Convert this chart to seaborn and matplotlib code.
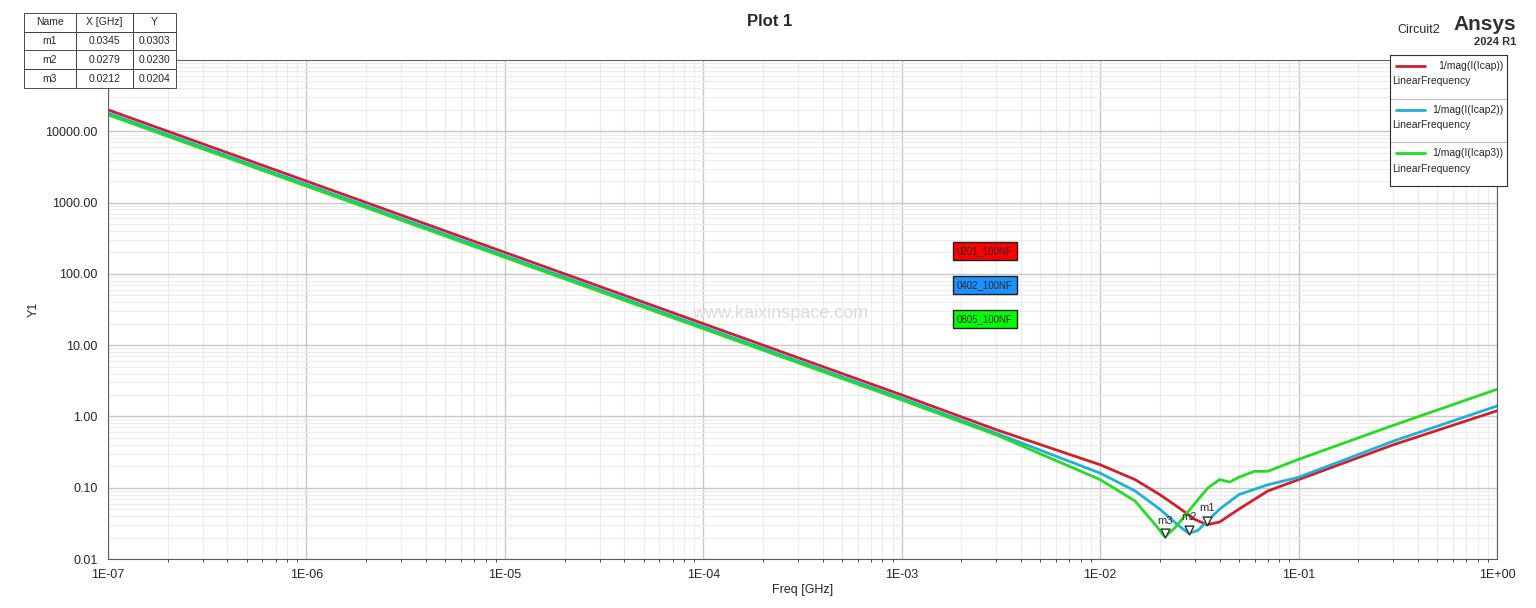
import matplotlib
matplotlib.use('Agg')
import matplotlib.pyplot as plt
import matplotlib.ticker as mticker
import numpy as np
import pandas as pd
import seaborn as sns

# ------------------ Data ------------------ #
red_f = [1e-7, 1e-6, 1e-5, 1e-4, 1e-3, 3e-3, 1e-2, 0.015, 0.02, 0.025, 0.03, 0.0345, 0.04, 0.05, 0.07, 0.1, 0.3, 1.0]
red_y = [20000, 2000, 200, 20, 2.0, 0.65, 0.21, 0.13, 0.08, 0.052, 0.036, 0.0303, 0.033, 0.05, 0.09, 0.13, 0.4, 1.2]
blue_f = [1e-7, 1e-6, 1e-5, 1e-4, 1e-3, 3e-3, 1e-2, 0.015, 0.02, 0.025, 0.0279, 0.031, 0.035, 0.04, 0.05, 0.07, 0.1, 0.3, 1.0]
blue_y = [18000, 1800, 180, 18, 1.8, 0.58, 0.16, 0.09, 0.05, 0.029, 0.0230, 0.025, 0.035, 0.05, 0.08, 0.11, 0.14, 0.45, 1.4]
green_f = [1e-7, 1e-6, 1e-5, 1e-4, 1e-3, 3e-3, 1e-2, 0.015, 0.019, 0.0212, 0.024, 0.03, 0.035, 0.04, 0.045, 0.05, 0.06, 0.07, 0.1, 0.3, 1.0]
green_y = [17000, 1700, 170, 17, 1.7, 0.55, 0.13, 0.065, 0.03, 0.0204, 0.028, 0.06, 0.1, 0.13, 0.12, 0.14, 0.17, 0.17, 0.25, 0.75, 2.4]

markers = ["m1", "m2", "m3"]
marker_x = [0.0345, 0.0279, 0.0212]
marker_y = [0.0303, 0.0230, 0.0204]

legend_names = ["1/mag(I(Icap))", "1/mag(I(Icap2))", "1/mag(I(Icap3))"]
tag_names = ["0201_100NF", "0402_100NF", "0805_100NF"]
colors = ["#d0202a", "#1fb0d8", "#22dd22"]
tag_colors = ["#ff0000", "#1e90ff", "#00ff00"]

df = pd.concat([
    pd.DataFrame({"f": red_f, "y": red_y, "s": legend_names[0]}),
    pd.DataFrame({"f": blue_f, "y": blue_y, "s": legend_names[1]}),
    pd.DataFrame({"f": green_f, "y": green_y, "s": legend_names[2]}),
])

# ------------------ Plot ------------------ #
sns.set_style("white")
plt.rcParams['font.family'] = ['Liberation Sans', 'DejaVu Sans']

fig = plt.figure(figsize=(15.36, 6.08), dpi=100)
ax = fig.add_axes([108 / 1536, 49 / 608, 1389 / 1536, 499 / 608])

sns.lineplot(data=df, x="f", y="y", hue="s", palette=colors, sort=False,
             linewidth=2, legend=False, ax=ax)
ax.set_xscale("log")
ax.set_yscale("log")
ax.set_xlim(1e-7, 1.0)
ax.set_ylim(0.01, 1e5)

ax.xaxis.set_major_locator(mticker.LogLocator(base=10, numticks=10))
ax.xaxis.set_minor_locator(mticker.LogLocator(base=10, subs=np.arange(2, 10), numticks=100))
ax.yaxis.set_major_locator(mticker.FixedLocator([0.01, 0.1, 1, 10, 100, 1000, 10000]))
ax.yaxis.set_minor_locator(mticker.LogLocator(base=10, subs=np.arange(2, 10), numticks=100))
ax.xaxis.set_major_formatter(mticker.FuncFormatter(lambda v, p: "1E" + ("+00" if v >= 1 else f"-{int(round(-np.log10(v))):02d}")))
ax.xaxis.set_minor_formatter(mticker.NullFormatter())
ax.yaxis.set_major_formatter(mticker.FuncFormatter(lambda v, p: f"{v:.2f}"))
ax.yaxis.set_minor_formatter(mticker.NullFormatter())
ax.grid(True, which="major", color="#c8c8c8", linewidth=1)
ax.grid(True, which="minor", color="#ececec", linewidth=0.8)
ax.tick_params(axis="both", which="major", labelsize=9, length=4, direction="out")
ax.tick_params(axis="x", which="minor", length=2, direction="out", bottom=True)
for sp in ax.spines.values():
    sp.set_color("#606060")
ax.set_xlabel("Freq [GHz]", fontsize=9, labelpad=2)
ax.set_ylabel("Y1", fontsize=9)

# markers
for name, mx, my in zip(markers, marker_x, marker_y):
    ax.scatter([mx], [my * 1.12], marker="v", s=40, facecolor="white", edgecolor="#303030", zorder=5)
    ax.annotate(name, (mx, my * 1.12), xytext=(0, 7), textcoords="offset points",
                ha="center", fontsize=8, color="#303030")

# tags
for i, (t, c) in enumerate(zip(tag_names, tag_colors)):
    fig.text(957 / 1536, 1 - (251 + i * 34) / 608, t, fontsize=7, va="center", ha="left",
             bbox=dict(boxstyle="square,pad=0.45", facecolor=c, edgecolor="#202020"))

fig.text(780 / 1536, 1 - 313 / 608, "www.kaixinspace.com", fontsize=13, color="#dcdcdc",
         ha="center", va="center")

# title and branding
fig.text(770 / 1536, 1 - 22 / 608, "Plot 1", fontsize=12, fontweight="bold", ha="center", va="center")
fig.text(1397 / 1536, 1 - 30 / 608, "Circuit2", fontsize=9, ha="left", va="center")
fig.text(1516 / 1536, 1 - 24 / 608, "Ansys", fontsize=15, fontweight="bold", ha="right", va="center", color="#303030")
fig.text(1516 / 1536, 1 - 42 / 608, "2024 R1", fontsize=8, fontweight="bold", ha="right", va="center", color="#303030")

# legend box
lax = fig.add_axes([1390 / 1536, 1 - 186 / 608, 117 / 1536, 131 / 608])
lax.set_xlim(0, 1)
lax.set_ylim(0, 3)
lax.set_xticks([])
lax.set_yticks([])
for sp in lax.spines.values():
    sp.set_color("#303030")
for i, (n, c) in enumerate(zip(legend_names, colors)):
    y0 = 3 - i
    lax.plot([0.05, 0.3], [y0 - 0.25, y0 - 0.25], color=c, linewidth=2)
    lax.text(0.97, y0 - 0.25, n, fontsize=7.5, ha="right", va="center")
    lax.text(0.02, y0 - 0.6, "LinearFrequency", fontsize=7.5, ha="left", va="center")
    if i > 0:
        lax.axhline(y0, color="#c0c0c0", linewidth=0.8)

# marker table
tax = fig.add_axes([24 / 1536, 1 - 88 / 608, 152 / 1536, 75 / 608])
tax.axis("off")
cells = [[m, f"{x:.4f}", f"{y:.4f}"] for m, x, y in zip(markers, marker_x, marker_y)]
tbl = tax.table(cellText=cells, colLabels=["Name", "X [GHz]", "Y"], loc="center",
                cellLoc="center", colWidths=[0.34, 0.38, 0.28], bbox=[0, 0, 1, 1])
tbl.auto_set_font_size(False)
tbl.set_fontsize(7.5)
for cell in tbl.get_celld().values():
    cell.set_edgecolor("#303030")
    cell.set_linewidth(0.6)

fig.savefig("out.png", dpi=100)
